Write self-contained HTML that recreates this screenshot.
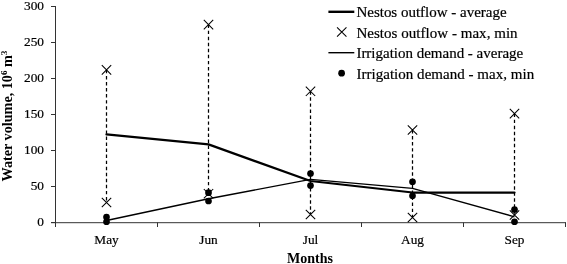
<!DOCTYPE html>
<html><head><meta charset="utf-8"><title>Chart</title>
<style>html,body{margin:0;padding:0;background:#fff;}svg{display:block;}text{font-family:"Liberation Serif","Times New Roman",serif;fill:#000;}.r text{stroke:#000;stroke-width:0.2px;}</style></head>
<body>
<svg xmlns="http://www.w3.org/2000/svg" width="567" height="264" viewBox="0 0 567 264">
<rect width="567" height="264" fill="#fff"/>
<g stroke="#333" stroke-width="1" fill="none" shape-rendering="auto">
<line x1="55.5" y1="6" x2="55.5" y2="227"/>
<line x1="51" y1="222.7" x2="566" y2="222.7"/>
<line x1="51" y1="6.5" x2="55.5" y2="6.5"/>
<line x1="51" y1="42.5" x2="55.5" y2="42.5"/>
<line x1="51" y1="78.5" x2="55.5" y2="78.5"/>
<line x1="51" y1="114.5" x2="55.5" y2="114.5"/>
<line x1="51" y1="150.5" x2="55.5" y2="150.5"/>
<line x1="51" y1="186.5" x2="55.5" y2="186.5"/>
<line x1="51" y1="222.5" x2="55.5" y2="222.5"/>
<line x1="157.5" y1="222.5" x2="157.5" y2="227"/>
<line x1="259.5" y1="222.5" x2="259.5" y2="227"/>
<line x1="361.5" y1="222.5" x2="361.5" y2="227"/>
<line x1="463.5" y1="222.5" x2="463.5" y2="227"/>
<line x1="565.5" y1="222.5" x2="565.5" y2="227"/>
</g>
<g class="r" font-size="13.3" text-anchor="end">
<text x="44" y="9.6">300</text>
<text x="44" y="45.6">250</text>
<text x="44" y="81.6">200</text>
<text x="44" y="117.6">150</text>
<text x="44" y="153.6">100</text>
<text x="44" y="189.6">50</text>
<text x="44" y="225.6">0</text>
</g>
<g class="r" font-size="13.3" text-anchor="middle">
<text x="106.5" y="243.6">May</text>
<text x="208.5" y="243.6">Jun</text>
<text x="310.5" y="243.6">Jul</text>
<text x="412.5" y="243.6">Aug</text>
<text x="514.5" y="243.6">Sep</text>
</g>
<text x="310" y="263.3" font-size="14" font-weight="bold" text-anchor="middle">Months</text>
<text transform="translate(11.9,116) rotate(-90)" font-size="14.18" font-weight="bold" text-anchor="middle">Water volume, 10<tspan font-size="9.2" dy="-5">6</tspan><tspan dy="5"> m</tspan><tspan font-size="9.2" dy="-5">3</tspan></text>
<g stroke="#000" stroke-width="1.25" stroke-dasharray="3.45 2.6" fill="none">
<line x1="106.5" y1="69.9" x2="106.5" y2="202.5"/>
<line x1="208.5" y1="24.6" x2="208.5" y2="193.7"/>
<line x1="310.5" y1="91.3" x2="310.5" y2="214.5"/>
<line x1="412.5" y1="130.0" x2="412.5" y2="217.5"/>
<line x1="514.5" y1="113.6" x2="514.5" y2="215.0"/>
</g>
<polyline fill="none" stroke="#000" stroke-width="2.25" stroke-linejoin="round" stroke-linecap="round" points="106.5,134.3 208.5,144.4 310.5,181.0 412.5,192.5 514.5,192.6"/>
<polyline fill="none" stroke="#000" stroke-width="1.35" stroke-linejoin="round" points="106.5,220.5 208.5,198.75 310.5,179.3 412.5,188.3 514.5,216.8"/>
<path d="M101.8,65.2L111.2,74.60000000000001M101.8,74.60000000000001L111.2,65.2M203.8,19.900000000000002L213.2,29.3M203.8,29.3L213.2,19.900000000000002M305.8,86.6L315.2,96.0M305.8,96.0L315.2,86.6M407.8,125.3L417.2,134.7M407.8,134.7L417.2,125.3M509.8,108.89999999999999L519.2,118.3M509.8,118.3L519.2,108.89999999999999M101.8,197.8L111.2,207.2M101.8,207.2L111.2,197.8M203.8,189.0L213.2,198.39999999999998M203.8,198.39999999999998L213.2,189.0M305.8,209.8L315.2,219.2M305.8,219.2L315.2,209.8M407.8,212.8L417.2,222.2M407.8,222.2L417.2,212.8M509.8,210.3L519.2,219.7M509.8,219.7L519.2,210.3M337.05,27.3L346.45,36.7M337.05,36.7L346.45,27.3" stroke="#000" stroke-width="1.05" fill="none"/>
<g fill="#000">
<circle cx="106.5" cy="217.0" r="3.35"/>
<circle cx="208.5" cy="192.7" r="3.35"/>
<circle cx="310.5" cy="173.5" r="3.35"/>
<circle cx="412.5" cy="181.75" r="3.35"/>
<circle cx="514.5" cy="209.5" r="3.35"/>
<circle cx="106.5" cy="221.75" r="3.35"/>
<circle cx="208.5" cy="201.0" r="3.35"/>
<circle cx="310.5" cy="185.6" r="3.35"/>
<circle cx="412.5" cy="195.75" r="3.35"/>
<circle cx="514.5" cy="221.75" r="3.35"/>
<circle cx="341.6" cy="73.2" r="3.35"/>
</g>
<line x1="328.4" y1="11.8" x2="354.3" y2="11.8" stroke="#000" stroke-width="2.4"/>
<line x1="328.4" y1="52.7" x2="354.3" y2="52.7" stroke="#000" stroke-width="1.4"/>
<g class="r" font-size="15">
<text x="356.4" y="17" textLength="150.2" lengthAdjust="spacing">Nestos outflow - average</text>
<text x="356.4" y="37.5" textLength="161.2" lengthAdjust="spacing">Nestos outflow - max, min</text>
<text x="356.4" y="58.4" textLength="166.8" lengthAdjust="spacing">Irrigation demand - average</text>
<text x="356.4" y="78.8" textLength="177.8" lengthAdjust="spacing">Irrigation demand - max, min</text>
</g>
</svg>
</body></html>
